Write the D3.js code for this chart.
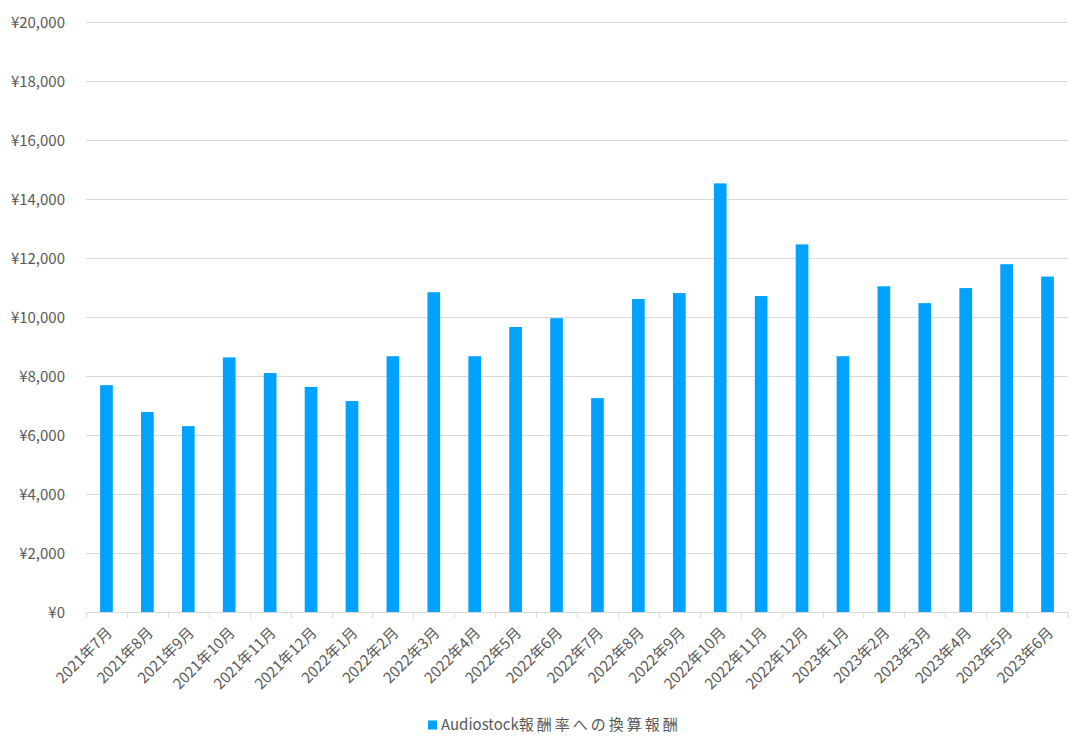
<!DOCTYPE html>
<html>
<head>
<meta charset="utf-8">
<script src="https://cdn.jsdelivr.net/npm/d3@7"></script>
<style>
html,body{margin:0;padding:0;background:#fff;}
svg{display:block;}
text{font-family:"Noto Sans CJK JP","Noto Sans",sans-serif;}
</style>
</head>
<body>
<svg id="chart" width="1084" height="745"></svg>
<script>
const categories = ["2021年7月","2021年8月","2021年9月","2021年10月","2021年11月","2021年12月",
  "2022年1月","2022年2月","2022年3月","2022年4月","2022年5月","2022年6月",
  "2022年7月","2022年8月","2022年9月","2022年10月","2022年11月","2022年12月",
  "2023年1月","2023年2月","2023年3月","2023年4月","2023年5月","2023年6月"];
const values = [7690, 6780, 6300, 8630, 8100, 7630,
  7150, 8670, 10840, 8670, 9660, 9960,
  7250, 10610, 10810, 14530, 10710, 12460,
  8670, 11040, 10470, 10980, 11790, 11370];
const yTicks = [0,2000,4000,6000,8000,10000,12000,14000,16000,18000,20000];
const seriesName = ["Audiostock", "報酬率への換算報酬"];

(function(){
const svg = d3.select("#chart");
const pL = 86, pR = 1068, pT = 22, pB = 612;
const x = d3.scaleBand().domain(categories).range([pL, pR]).paddingInner(0.69).paddingOuter(0.345);
const xb = d3.scaleBand().domain(categories).range([pL, pR]);
const y = d3.scaleLinear().domain([0, 20000]).range([pB, pT]);
const fmt = v => "¥" + d3.format(",")(v);
const gray = "#595959", grid = "#d9d9d9", blue = "#00a2ff";
const ff = "'Noto Sans CJK JP','Noto Sans',sans-serif";

// gridlines
svg.append("g").selectAll("line").data(yTicks.filter(d => d > 0)).join("line")
  .attr("x1", pL).attr("x2", pR)
  .attr("y1", d => Math.round(y(d)) + 0.5).attr("y2", d => Math.round(y(d)) + 0.5)
  .attr("stroke", grid).attr("stroke-width", 1);

// y labels
const yAxis = d3.axisLeft(y).tickValues(yTicks).tickFormat(fmt).tickSize(0).tickPadding(0);
const gy = svg.append("g").attr("transform", `translate(${pL - 21},0)`).call(yAxis);
gy.select(".domain").remove();
gy.selectAll("text").attr("fill", gray).attr("font-size", 15).attr("dy", "0.35em")
  .style("font-family", ff);

// bars
svg.append("g").selectAll("rect").data(values).join("rect")
  .attr("x", (d, i) => x(categories[i]))
  .attr("width", x.bandwidth())
  .attr("y", d => y(d))
  .attr("height", d => y(0) - y(d))
  .attr("fill", blue);

// x axis line + ticks at band boundaries
const gx = svg.append("g");
gx.append("line").attr("x1", pL).attr("x2", pR)
  .attr("y1", pB + 0.5).attr("y2", pB + 0.5).attr("stroke", grid);
const bounds = categories.map(c => xb(c)).concat([pR]);
gx.selectAll("line.tk").data(bounds).join("line").attr("class", "tk")
  .attr("x1", d => Math.round(d) + 0.5).attr("x2", d => Math.round(d) + 0.5)
  .attr("y1", pB).attr("y2", pB + 6).attr("stroke", grid);

// x labels rotated
const xAxis = d3.axisBottom(xb).tickSize(0).tickPadding(0);
const gxl = svg.append("g").attr("transform", `translate(3,${pB + 18})`).call(xAxis);
gxl.select(".domain").remove();
gxl.selectAll("text").attr("fill", gray).attr("font-size", 15)
  .style("font-family", ff)
  .attr("text-anchor", "end").attr("dy", "0.35em").attr("y", 0)
  .attr("transform", "rotate(-45)");

// legend
const lg = svg.append("g").attr("transform", "translate(428,725)");
lg.append("rect").attr("x", 0).attr("y", -4.5).attr("width", 9).attr("height", 9).attr("fill", blue);
const lt = lg.append("text").attr("x", 13).attr("y", 0).attr("dy", "0.35em")
  .attr("fill", gray).attr("font-size", 15).style("font-family", ff);
lt.append("tspan").text(seriesName[0]);
lt.append("tspan").attr("letter-spacing", 3).text(seriesName[1]);
})();
</script>
</body>
</html>
